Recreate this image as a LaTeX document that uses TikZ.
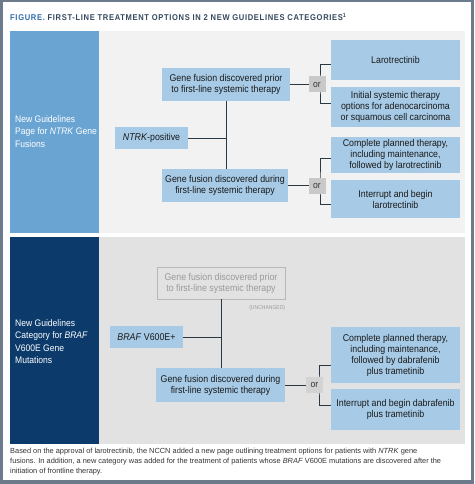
\documentclass[tikz,border=0pt]{standalone}
\usepackage{fontspec}
\setmainfont[FakeStretch=0.9]{Liberation Sans}
\newfontfamily\notefont{Liberation Sans}
\usetikzlibrary{positioning}
\definecolor{framegrey}{HTML}{6B7B8B}
\definecolor{panelblue}{HTML}{6AA4D3}
\definecolor{panelnavy}{HTML}{0B3A6B}
\definecolor{boxblue}{HTML}{A7CBE7}
\definecolor{bgone}{HTML}{F2F2F2}
\definecolor{bgtwo}{HTML}{E2E2E2}
\definecolor{orgrey}{HTML}{C9C9C9}
\definecolor{orlight}{HTML}{D3D3D3}
\definecolor{linecol}{HTML}{2A3946}
\definecolor{titleblue}{HTML}{2F6EA8}
\definecolor{titlegrey}{HTML}{34495E}
\definecolor{fadegrey}{HTML}{9A9A9A}

\tikzset{
  optbox/.style={fill=boxblue, align=center, inner sep=0pt, text=black!90,
    font=\fontsize{9.8}{11}\selectfont},
  orbox/.style={fill=orgrey, minimum width=17pt, minimum height=16pt, inner sep=0pt,
    text=black!80, font=\fontsize{9.5}{10}\selectfont},
  panel/.style={align=left, text=white, anchor=north west, inner sep=0pt,
    font=\fontsize{9.5}{12.5}\selectfont},
  link/.style={draw=linecol, line width=0.8pt},
}

\begin{document}
\begin{tikzpicture}[x=1pt,y=-1pt]
    % frame and panels
    \fill[framegrey] (0,0) rectangle (474,484);
    \fill[white] (3,2) rectangle (471,480);
    \fill[panelblue] (10,31) rectangle (99,233);
    \fill[bgone] (99,31) rectangle (465,233);
    \fill[panelnavy] (10,237) rectangle (99,444);
    \fill[bgtwo] (99,237) rectangle (465,444);

    % Title
    \node[anchor=west, inner sep=0pt, font=\bfseries\fontsize{8.4}{9}\selectfont] (title) at (10,17)
        {\addfontfeature{LetterSpace=8}\textcolor{titleblue}{FIGURE.} \textcolor{titlegrey}{FIRST-LINE TREATMENT OPTIONS IN 2 NEW GUIDELINES CATEGORIES\textsuperscript{1}}};

    % NTRK section
    \node[panel] (ntrkpanel) at (15,115) {New Guidelines\\Page for \textit{NTRK} Gene\\Fusions};
    \node[optbox, minimum width=128pt, minimum height=33pt] (gpre) at (226,84.5)
        {Gene fusion discovered prior\\to first-line systemic therapy};
    \node[optbox, minimum width=73pt, minimum height=22pt] (ntrk) at (151.5,138) {\textit{NTRK}-positive};
    \node[optbox, minimum width=126pt, minimum height=33pt] (gdur) at (225,185.5)
        {Gene fusion discovered during\\first-line systemic therapy};
    \node[optbox, minimum width=129pt, minimum height=40pt] (laro) at (395.5,60) {Larotrectinib};
    \node[optbox, minimum width=129pt, minimum height=40pt] (init) at (395.5,107)
        {Initial systemic therapy\\options for adenocarcinoma\\or squamous cell carcinoma};
    \node[optbox, minimum width=129pt, minimum height=36pt] (compA) at (395.5,155)
        {Complete planned therapy,\\including maintenance,\\followed by larotrectinib};
    \node[optbox, minimum width=129pt, minimum height=38pt] (stopA) at (395.5,199)
        {Interrupt and begin\\larotrectinib};
    \coordinate (orAc) at (317,84.5);
    \coordinate (orBc) at (317,185.5);
    \draw[link] (gpre.south) -- (gpre.south |- gdur.north);
    \draw[link] (ntrk.east) -- (ntrk.east -| gpre.south);
    \draw[link] (gpre.east) -- (orAc);
    \draw[link] (gdur.east) -- (orBc);
    \draw[link] ([yshift=-4pt]laro.west) -| ([xshift=3pt]orAc) |- ([yshift=4pt]init.west);
    \draw[link] ([yshift=-3pt]compA.west) -| ([xshift=3pt]orBc) |- ([yshift=-5pt]stopA.west);
    \node[orbox] (orA) at (orAc) {or};
    \node[orbox] (orB) at (orBc) {or};

    % BRAF section
    \node[panel] (brafpanel) at (15,319) {New Guidelines\\Category for \textit{BRAF}\\V600E Gene\\Mutations};
    \node[draw=fadegrey!70, line width=0.7pt, align=center, inner sep=0pt, text=fadegrey,
        font=\fontsize{9.8}{11}\selectfont, minimum width=128pt, minimum height=32pt] (gold) at (221,283)
        {Gene fusion discovered prior\\to first-line systemic therapy};
    \node[anchor=north east, inner sep=0pt, text=fadegrey, font=\fontsize{5.6}{6}\selectfont] (unch)
        at ([yshift=-6pt]gold.south east) {(UNCHANGED)};
    \node[optbox, minimum width=73pt, minimum height=22pt] (braf) at (146.5,337) {\textit{BRAF} V600E+};
    \node[optbox, minimum width=129pt, minimum height=34pt] (gnew) at (220.5,385)
        {Gene fusion discovered during\\first-line systemic therapy};
    \node[optbox, minimum width=129pt, minimum height=56pt] (compB) at (395.5,355)
        {Complete planned therapy,\\including maintenance,\\followed by dabrafenib\\plus trametinib};
    \node[optbox, minimum width=129pt, minimum height=41pt] (stopB) at (395.5,409.5)
        {Interrupt and begin dabrafenib\\plus trametinib};
    \coordinate (orCc) at (314.5,385);
    \draw[link] (gold.south) -- (gold.south |- gnew.north);
    \draw[link] (braf.east) -- (braf.east -| gold.south);
    \draw[link] (gnew.east) -- (orCc);
    \draw[link] ([yshift=-10pt]compB.west) -| ([xshift=4.5pt]orCc) |- ([yshift=4.5pt]stopB.west);
    \node[orbox, fill=orlight] (orC) at (orCc) {or};

    % caption
    \node[anchor=north west, align=left, inner sep=0pt, text=black!80,
        font=\notefont\fontsize{7.4}{10}\selectfont] (note) at (10,448)
        {Based on the approval of larotrectinib, the NCCN added a new page outlining treatment options for patients with \textit{NTRK} gene\\
        fusions. In addition, a new category was added for the treatment of patients whose \textit{BRAF} V600E mutations are discovered after the\\
        initiation of frontline therapy.};
\end{tikzpicture}
\end{document}
